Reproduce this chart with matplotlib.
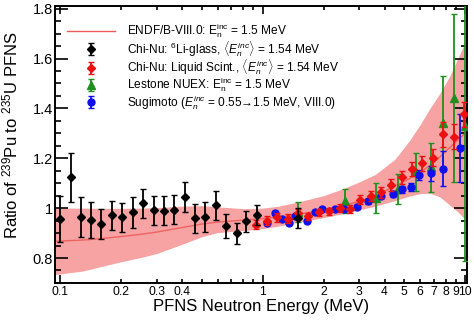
import matplotlib as mpl

mpl.use("Agg")

import matplotlib.pyplot as plt

# ENDF/B-VIII.0 ratio and its uncertainty band
endf_e = [0.09, 0.1, 0.13, 0.16, 0.2, 0.25, 0.3, 0.4, 0.5, 0.6, 0.8, 1.0, 1.2, 1.5,
          2.0, 2.5, 3.0, 3.6, 4.5, 5.3, 6.0, 6.7, 7.5, 8.4, 9.2, 10.0, 11.0]
endf_lo = [0.733, 0.736, 0.748, 0.766, 0.785, 0.802, 0.818, 0.855, 0.885, 0.902, 0.910,
           0.918, 0.928, 0.944, 0.962, 0.978, 0.993, 1.008, 1.030, 1.048, 1.058, 1.060,
           1.045, 1.012, 0.985, 0.955, 0.920]
endf_mid = [0.867, 0.868, 0.872, 0.878, 0.886, 0.895, 0.904, 0.922, 0.936, 0.944, 0.952,
            0.958, 0.964, 0.975, 0.992, 1.010, 1.027, 1.050, 1.088, 1.118, 1.145, 1.170,
            1.205, 1.243, 1.273, 1.300, 1.340]
endf_hi = [1.000, 1.000, 1.000, 0.999, 0.999, 1.000, 1.002, 1.008, 1.010, 1.005, 0.998,
           1.000, 1.008, 1.025, 1.050, 1.078, 1.105, 1.135, 1.196, 1.270, 1.335, 1.400,
           1.460, 1.530, 1.600, 1.665, 1.780]

# Chi-Nu 6Li-glass
li_e = [0.1, 0.113, 0.127, 0.142, 0.16, 0.181, 0.203, 0.229, 0.258, 0.29, 0.327, 0.366,
        0.413, 0.464, 0.52, 0.586, 0.66, 0.745, 0.832, 0.937, 1.5]
li_r = [0.956, 1.123, 0.963, 0.952, 0.936, 0.972, 0.963, 0.983, 1.020, 0.992, 0.989, 0.993,
        1.045, 0.959, 0.965, 1.012, 0.927, 0.899, 0.947, 0.973, 0.962]
li_err = [0.092, 0.10, 0.08, 0.072, 0.06, 0.058, 0.058, 0.062, 0.058, 0.058, 0.058, 0.058,
          0.06, 0.058, 0.06, 0.058, 0.048, 0.043, 0.043, 0.04, 0.04]

# Chi-Nu liquid scintillator
ls_e = [0.93, 1.047, 1.18, 1.33, 1.49, 1.68, 1.89, 2.13, 2.4, 2.7, 3.03, 3.41, 3.84, 4.32,
        4.86, 5.47, 6.15, 6.92, 7.79, 8.77, 9.87]
ls_r = [0.933, 0.949, 0.963, 0.958, 0.980, 0.967, 0.983, 0.987, 1.000, 0.996, 1.033, 1.049,
        1.063, 1.092, 1.123, 1.156, 1.180, 1.203, 1.296, 1.287, 1.376]
ls_err = [0.018, 0.018, 0.018, 0.018, 0.018, 0.015, 0.015, 0.015, 0.015, 0.016, 0.018, 0.02,
          0.022, 0.024, 0.026, 0.028, 0.03, 0.035, 0.05, 0.05, 0.05]

# Lestone NUEX
nx_e = [1.5, 2.55, 3.62, 4.64, 5.73, 6.8, 7.8, 8.8, 9.96]
nx_r = [0.983, 1.029, 1.039, 1.078, 1.145, 1.163, 1.34, 1.443, 1.33]
nx_err = [0.04, 0.048, 0.06, 0.06, 0.078, 0.1, 0.19, 0.337, 0.54]

# Sugimoto
su_e = [1.05, 1.15, 1.25, 1.35, 1.45, 1.66, 1.81, 1.97, 2.29, 2.52, 2.94, 3.33, 3.83, 4.38,
        4.9, 5.4, 5.95, 6.8, 7.8, 9.4]
su_r = [0.942, 0.980, 0.958, 0.940, 0.969, 0.950, 0.983, 0.995, 0.996, 0.997, 1.006, 1.027,
        1.050, 1.058, 1.076, 1.085, 1.132, 1.140, 1.158, 1.240]
su_err = [0.008, 0.008, 0.008, 0.008, 0.008, 0.008, 0.008, 0.008, 0.008, 0.008, 0.009, 0.01,
          0.011, 0.012, 0.014, 0.016, 0.02, 0.03, 0.07, 0.136]

x_major = [0.1, 1, 10]
x_major_labels = ["0.1", "1", "10"]
x_minor = [0.2, 0.3, 0.4, 0.5, 0.6, 0.7, 0.8, 0.9, 2, 3, 4, 5, 6, 7, 8, 9]
x_minor_labels = ["0.2", "0.3", "0.4", "", "", "", "", "", "2", "3", "4", "5", "6", "7", "8", "9"]
y_major = [0.8, 1.0, 1.2, 1.4, 1.6, 1.8]
y_major_labels = ["0.8", "1", "1.2", "1.4", "1.6", "1.8"]

plt.rcParams["font.family"] = ["Liberation Sans", "DejaVu Sans"]
plt.rcParams["mathtext.fontset"] = "custom"
plt.rcParams["mathtext.rm"] = "Liberation Sans"
plt.rcParams["mathtext.it"] = "Liberation Sans:italic"

fig = plt.figure(figsize=(4.74, 3.23), dpi=100)
ax = fig.add_axes([0.116, 0.124, 0.869, 0.857])

ax.fill_between(endf_e, endf_lo, endf_hi, color="#f7a3a3", lw=0, zorder=1)
ax.plot(endf_e, endf_mid, color="#f06262", lw=1.0, zorder=2)
endf_handle = plt.Line2D([], [], color="#f05a5a", lw=1.0)

kw = dict(ls="none", capsize=2, elinewidth=1.3, capthick=1.0)
h_nx = ax.errorbar(nx_e, nx_r, yerr=nx_err, fmt="^", ms=6, color="#1f8f1f", zorder=3, **kw)
h_su = ax.errorbar(su_e, su_r, yerr=su_err, fmt="o", ms=5, color="#1010ee", zorder=4, **kw)
h_ls = ax.errorbar(ls_e, ls_r, yerr=ls_err, fmt="D", ms=4, color="#ee1010", zorder=5, **kw)
h_li = ax.errorbar(li_e, li_r, yerr=li_err, fmt="D", ms=4, color="black", zorder=6, **kw)

labels = [
    r"ENDF/B-VIII.0: $\mathrm{E_n^{inc}}$ = 1.5 MeV",
    r"Chi-Nu: $^6$Li-glass, $\langle E_n^{inc}\rangle$ = 1.54 MeV",
    r"Chi-Nu: Liquid Scint., $\langle E_n^{inc}\rangle$ = 1.54 MeV",
    r"Lestone NUEX: $\mathrm{E_n^{inc}}$ = 1.5 MeV",
    r"Sugimoto ($E_n^{inc}$ = 0.55→1.5 MeV, VIII.0)",
]
ax.legend([endf_handle, h_li, h_ls, h_nx, h_su], labels, loc="upper left",
          bbox_to_anchor=(0.029, 0.945), frameon=False, fontsize=8.6,
          handlelength=4.0, handletextpad=1.0, labelspacing=-0.12, handleheight=0.5,
          borderpad=0, borderaxespad=0)

ax.set_xscale("log")
ax.set_xlim(0.0944, 10.2)
ax.set_ylim(0.7, 1.81)

ax.set_xticks(x_major, x_major_labels)
ax.set_xticks(x_minor, x_minor_labels, minor=True)
ax.set_yticks(y_major, y_major_labels)
ax.set_yticks([0.7 + 0.05 * i for i in range(23)], minor=True)

ax.tick_params(axis="both", which="both", direction="in", top=True, right=True, width=1.2)
ax.tick_params(axis="x", which="both", labelsize=8.7, pad=2)
ax.tick_params(axis="x", which="major", length=6)
ax.tick_params(axis="x", which="minor", length=3)
ax.tick_params(axis="y", which="major", length=9.5, labelsize=10.5, pad=1.5)
ax.tick_params(axis="y", which="minor", length=4.5)
for s in ax.spines.values():
    s.set_linewidth(1.4)

ax.set_xlabel("PFNS Neutron Energy (MeV)", fontsize=12, labelpad=1)
ax.set_ylabel(r"Ratio of $^{239}$Pu to $^{235}$U PFNS", fontsize=12)
ax.yaxis.set_label_coords(-0.083, 0.534)

plt.savefig("out.png", dpi=100)
